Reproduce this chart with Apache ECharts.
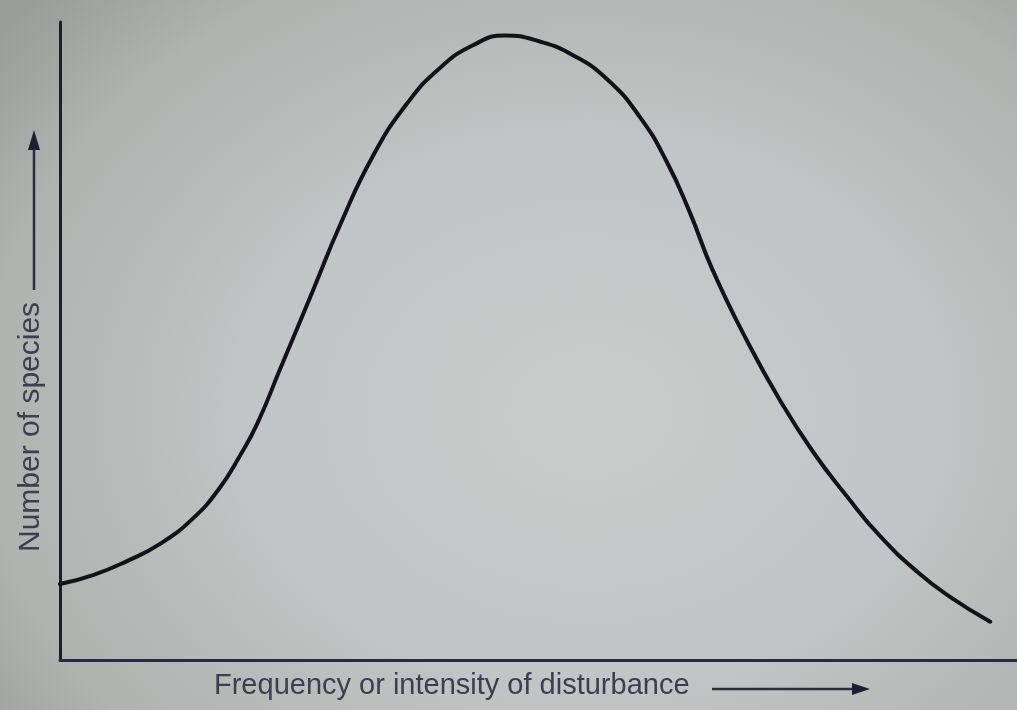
<!DOCTYPE html>
<html>
<head>
<meta charset="utf-8">
<script src="https://cdn.jsdelivr.net/npm/echarts@6/dist/echarts.min.js"></script>
<style>
html,body{margin:0;padding:0;width:1017px;height:710px;overflow:hidden;}
body{background:radial-gradient(ellipse 75% 85% at 58% 58%, #c8cccb 0%, #c0c5c5 45%, #aeb3b0 80%, #989d96 100%);}
#chart{width:1017px;height:710px;}
</style>
</head>
<body>
<div id="chart"></div>
<script>
// Disturbance (relative, 0-100) and number of species (relative, 0-100)
const disturbance = [0, 3.45, 7.0, 10.45, 13.9, 16.7, 18.8, 20.6, 23.0, 26.4, 29.3, 32.7, 36.3, 39.7, 43.2, 46.5, 50.2, 53.6, 57.2, 60.6, 63.4, 65.8, 68.2, 71.8, 75.2, 78.7, 82.2, 85.7, 89.6, 93.0, 97.2];
const species = [11.9, 13.3, 15.5, 18.2, 22.2, 27.0, 32.0, 37.0, 45.6, 57.8, 68.3, 79.0, 87.3, 92.8, 96.4, 97.9, 96.9, 94.8, 91.0, 85.1, 78.1, 70.2, 61.1, 50.0, 40.8, 32.6, 25.7, 19.4, 13.8, 9.9, 6.0];
const xTitle = 'Frequency or intensity of disturbance';
const yTitle = 'Number of species';

const chart = echarts.init(document.getElementById('chart'));
const textColor = '#3b4050';
chart.setOption({
  backgroundColor: 'transparent',
  animation: false,
  grid: {left: 60, right: 0, top: 22, bottom: 50},
  xAxis: {
    type: 'value', min: 0, max: 100,
    axisLine: {show: true, lineStyle: {color: '#272a40', width: 3}},
    axisTick: {show: false}, axisLabel: {show: false}, splitLine: {show: false}
  },
  yAxis: {
    type: 'value', min: 0, max: 100,
    axisLine: {show: true, lineStyle: {color: '#1c1e28', width: 3}},
    axisTick: {show: false}, axisLabel: {show: false}, splitLine: {show: false}
  },
  series: [{
    type: 'line',
    data: disturbance.map((d, i) => [d, species[i]]),
    smooth: 0.5,
    symbol: 'none',
    lineStyle: {color: '#121318', width: 4, cap: 'round'}
  }],
  graphic: [
    {type: 'text', left: 214, top: 671, style: {text: xTitle, font: '29px "Liberation Sans", Arial, sans-serif', fill: textColor}},
    {type: 'line', shape: {x1: 712, y1: 689, x2: 856, y2: 689}, style: {stroke: '#2a2d3c', lineWidth: 2.5}},
    {type: 'polygon', shape: {points: [[852, 683], [870, 689], [852, 695]]}, style: {fill: '#1e2030'}},
    {type: 'text', x: 46, y: 552, rotation: Math.PI / 2, style: {text: yTitle, font: '30px "Liberation Sans", Arial, sans-serif', fill: textColor, textAlign: 'left', textVerticalAlign: 'bottom'}},
    {type: 'line', shape: {x1: 34, y1: 290, x2: 34, y2: 146}, style: {stroke: '#2a2d3c', lineWidth: 2.5}},
    {type: 'polygon', shape: {points: [[28, 150], [34, 130], [40, 150]]}, style: {fill: '#1e2030'}}
  ]
});
</script>
</body>
</html>
